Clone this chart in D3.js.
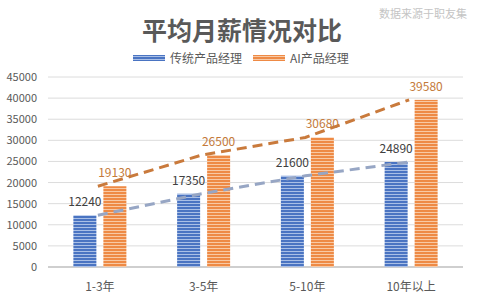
<!DOCTYPE html>
<html lang="zh">
<head>
<meta charset="UTF-8">
<title>平均月薪情况对比</title>
<script src="https://d3js.org/d3.v7.min.js"></script>
<style>
  body { margin: 0; background: #fff; }
  text { font-family: "Noto Sans CJK SC", "Noto Sans", sans-serif; }
</style>
</head>
<body>
<svg width="479" height="307"></svg>
<script>
// data
const categories = ["1-3年", "3-5年", "5-10年", "10年以上"];
const seriesNames = ["传统产品经理", "AI产品经理"];
const traditional = [12240, 17350, 21600, 24890];
const ai = [19130, 26500, 30680, 39580];
const yTicks = [0, 5000, 10000, 15000, 20000, 25000, 30000, 35000, 40000, 45000];

const svg = d3.select("svg");

const plotLeft = 48, plotRight = 463, plotTop = 77, plotBottom = 267;

const x = d3.scaleBand().domain(categories).range([plotLeft, plotRight]);
const y = d3.scaleLinear().domain([0, 45000]).range([plotBottom, plotTop]);
const sub = d3.scaleBand().domain(seriesNames).range([-26.5, 26.5]).paddingInner(0.2333);

// stripe patterns
const defs = svg.append("defs");
function stripes(id, base, light) {
  const p = defs.append("pattern")
    .attr("id", id).attr("patternUnits", "userSpaceOnUse")
    .attr("width", 6).attr("height", 3);
  p.append("rect").attr("width", 6).attr("height", 3).attr("fill", base);
  p.append("rect").attr("y", 2).attr("width", 6).attr("height", 1).attr("fill", light);
}
stripes("stripeBlue", "#4a74c2", "#a9bfe6");
stripes("stripeOrange", "#ee8a45", "#f8c9a4");

const colors = { "传统产品经理": "url(#stripeBlue)", "AI产品经理": "url(#stripeOrange)" };
const lineColors = { "传统产品经理": "#97a6c4", "AI产品经理": "#c97a3c" };
const labelColors = { "传统产品经理": "#404040", "AI产品经理": "#c47a3a" };

// watermark
svg.append("text")
  .attr("x", 467).attr("y", 18)
  .attr("text-anchor", "end")
  .attr("font-size", 11).attr("fill", "#c4c4c4")
  .text("数据来源于职友集");

// title
svg.append("text")
  .attr("x", 242).attr("y", 40)
  .attr("text-anchor", "middle")
  .attr("font-size", 25).attr("font-weight", "bold").attr("fill", "#595959")
  .text("平均月薪情况对比");

// legend
const legend = svg.append("g");
const legendX = [133, 253];
seriesNames.forEach((s, i) => {
  legend.append("rect")
    .attr("x", legendX[i]).attr("y", 55).attr("width", 32).attr("height", 6)
    .attr("fill", colors[s]);
  legend.append("text")
    .attr("x", legendX[i] + 37).attr("y", 63)
    .attr("font-size", 12).attr("fill", "#595959")
    .text(s);
});

// grid
svg.append("g")
  .selectAll("line")
  .data(yTicks)
  .join("line")
  .attr("x1", plotLeft).attr("x2", plotRight)
  .attr("y1", d => y(d)).attr("y2", d => y(d))
  .attr("stroke", d => d === 0 ? "#bfbfbf" : "#dcdcdc")
  .attr("stroke-width", d => d === 0 ? 1.5 : 1);

// y axis labels
svg.append("g")
  .selectAll("text")
  .data(yTicks)
  .join("text")
  .attr("x", 37).attr("y", d => y(d) + 4)
  .attr("text-anchor", "end")
  .attr("font-size", 11).attr("fill", "#595959")
  .text(d => d);

// x axis labels
svg.append("g")
  .selectAll("text")
  .data(categories)
  .join("text")
  .attr("x", d => x(d) + x.bandwidth() / 2).attr("y", 291)
  .attr("text-anchor", "middle")
  .attr("font-size", 12).attr("fill", "#595959")
  .text(d => d);

const series = [
  { name: "传统产品经理", values: traditional },
  { name: "AI产品经理", values: ai }
];

// bars
series.forEach(s => {
  svg.append("g")
    .selectAll("rect")
    .data(s.values)
    .join("rect")
    .attr("x", (d, i) => x(categories[i]) + x.bandwidth() / 2 + sub(s.name))
    .attr("width", sub.bandwidth())
    .attr("y", d => y(d))
    .attr("height", d => y(0) - y(d))
    .attr("fill", colors[s.name]);
});

// dashed trend lines
const cx = i => x(categories[i]) + x.bandwidth() / 2;
series.forEach(s => {
  const line = d3.line()
    .x((d, i) => cx(i) - 2)
    .y(d => y(d));
  svg.append("path")
    .datum(s.values)
    .attr("d", line)
    .attr("fill", "none")
    .attr("stroke", lineColors[s.name])
    .attr("stroke-width", 3)
    .attr("stroke-dasharray", "10,6");
});

// value labels
series.forEach(s => {
  svg.append("g")
    .selectAll("text")
    .data(s.values)
    .join("text")
    .attr("x", (d, i) => cx(i) + sub(s.name) + sub.bandwidth() / 2)
    .attr("y", d => y(d) - 9)
    .attr("text-anchor", "middle")
    .attr("font-size", 12).attr("fill", labelColors[s.name])
    .text(d => d);
});
</script>
</body>
</html>
